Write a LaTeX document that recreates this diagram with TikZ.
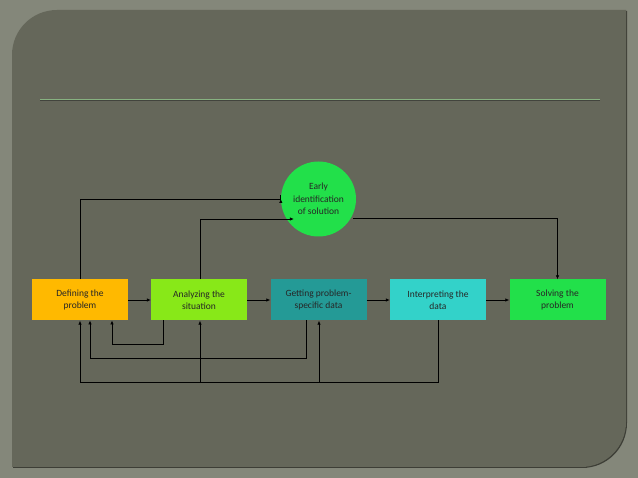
\documentclass[tikz,border=0pt]{standalone}
\usepackage{fontspec}
\setmainfont{Carlito}
\usetikzlibrary{arrows.meta}
\definecolor{outer}{HTML}{84877A}
\definecolor{panel}{HTML}{65675A}
\definecolor{c1}{HTML}{FFB900}
\definecolor{c2}{HTML}{88E818}
\definecolor{c3}{HTML}{249A96}
\definecolor{c4}{HTML}{33D2C9}
\definecolor{c5}{HTML}{22E04A}
\begin{document}
\begin{tikzpicture}[x=1pt,y=-1pt,
  box/.style={minimum width=96pt,minimum height=41pt,inner sep=1pt,align=center,font=\fontsize{9.5}{11.5}\selectfont,text=black!85},
  conn/.style={draw=black,line width=0.7pt,-{Latex[length=4pt,width=3.5pt]}}]
\useasboundingbox (0,0) rectangle (638,478);
\fill[outer] (0,0) rectangle (638,478);
\fill[black!40!panel] (13,56) .. controls (13,31) and (33,11) .. (58,11) -- (627,11) -- (627,423) .. controls (627,448) and (607,468) .. (582,468) -- (13,468) -- cycle;
\fill[panel] (12,55) .. controls (12,30) and (32,10) .. (57,10) -- (626,10) -- (626,422) .. controls (626,447) and (606,467) .. (581,467) -- (12,467) -- cycle;
\draw[draw=black!50!outer] (40,100.5) -- (600,100.5);
\draw[draw=green!20!outer!80!white] (40,99.5) -- (600,99.5);
\node[box,fill=c1] (b1) at (80,300) {Defining the\\problem};
\node[box,fill=c2] (b2) at (199,300) {Analyzing the\\situation};
\node[box,fill=c3] (b3) at (318.5,300) {Getting problem-\\specific data};
\node[box,fill=c4] (b4) at (438,300) {Interpreting the\\data};
\node[box,fill=c5] (b5) at (557.5,300) {Solving the\\problem};
\node[circle,fill=c5,minimum size=75pt,inner sep=0pt,align=center,font=\fontsize{9.5}{12.5}\selectfont,text=black!85] (e) at (318.5,199) {Early\\identification\\of solution};
\draw[conn] (b1) -- (b2);
\draw[conn] (b2) -- (b3);
\draw[conn] (b3) -- (b4);
\draw[conn] (b4) -- (b5);
\draw[conn] (b1.north) |- (e.west|-0,199) -- (e.west);
\coordinate (t2) at (200,219);
\draw[conn] (b2.north -| t2) |- (e.south west|-t2) ++(0,0) -- ++(2,0);
\draw[conn] (e.east|-0,218) ++(-3,0) -| (b5.north);
\draw[conn] (163,320.5) |- (112,344) -- (112,320.5);
\draw[conn] (306,320.5) |- (90,358) -- (90,320.5);
\draw[conn] (438,320.5) |- (80,382) -- (b1.south);
\draw[conn] (200,382) -- (b2.south-|200,0);
\draw[conn] (319,382) -- (b3.south-|319,0);
\end{tikzpicture}
\end{document}
